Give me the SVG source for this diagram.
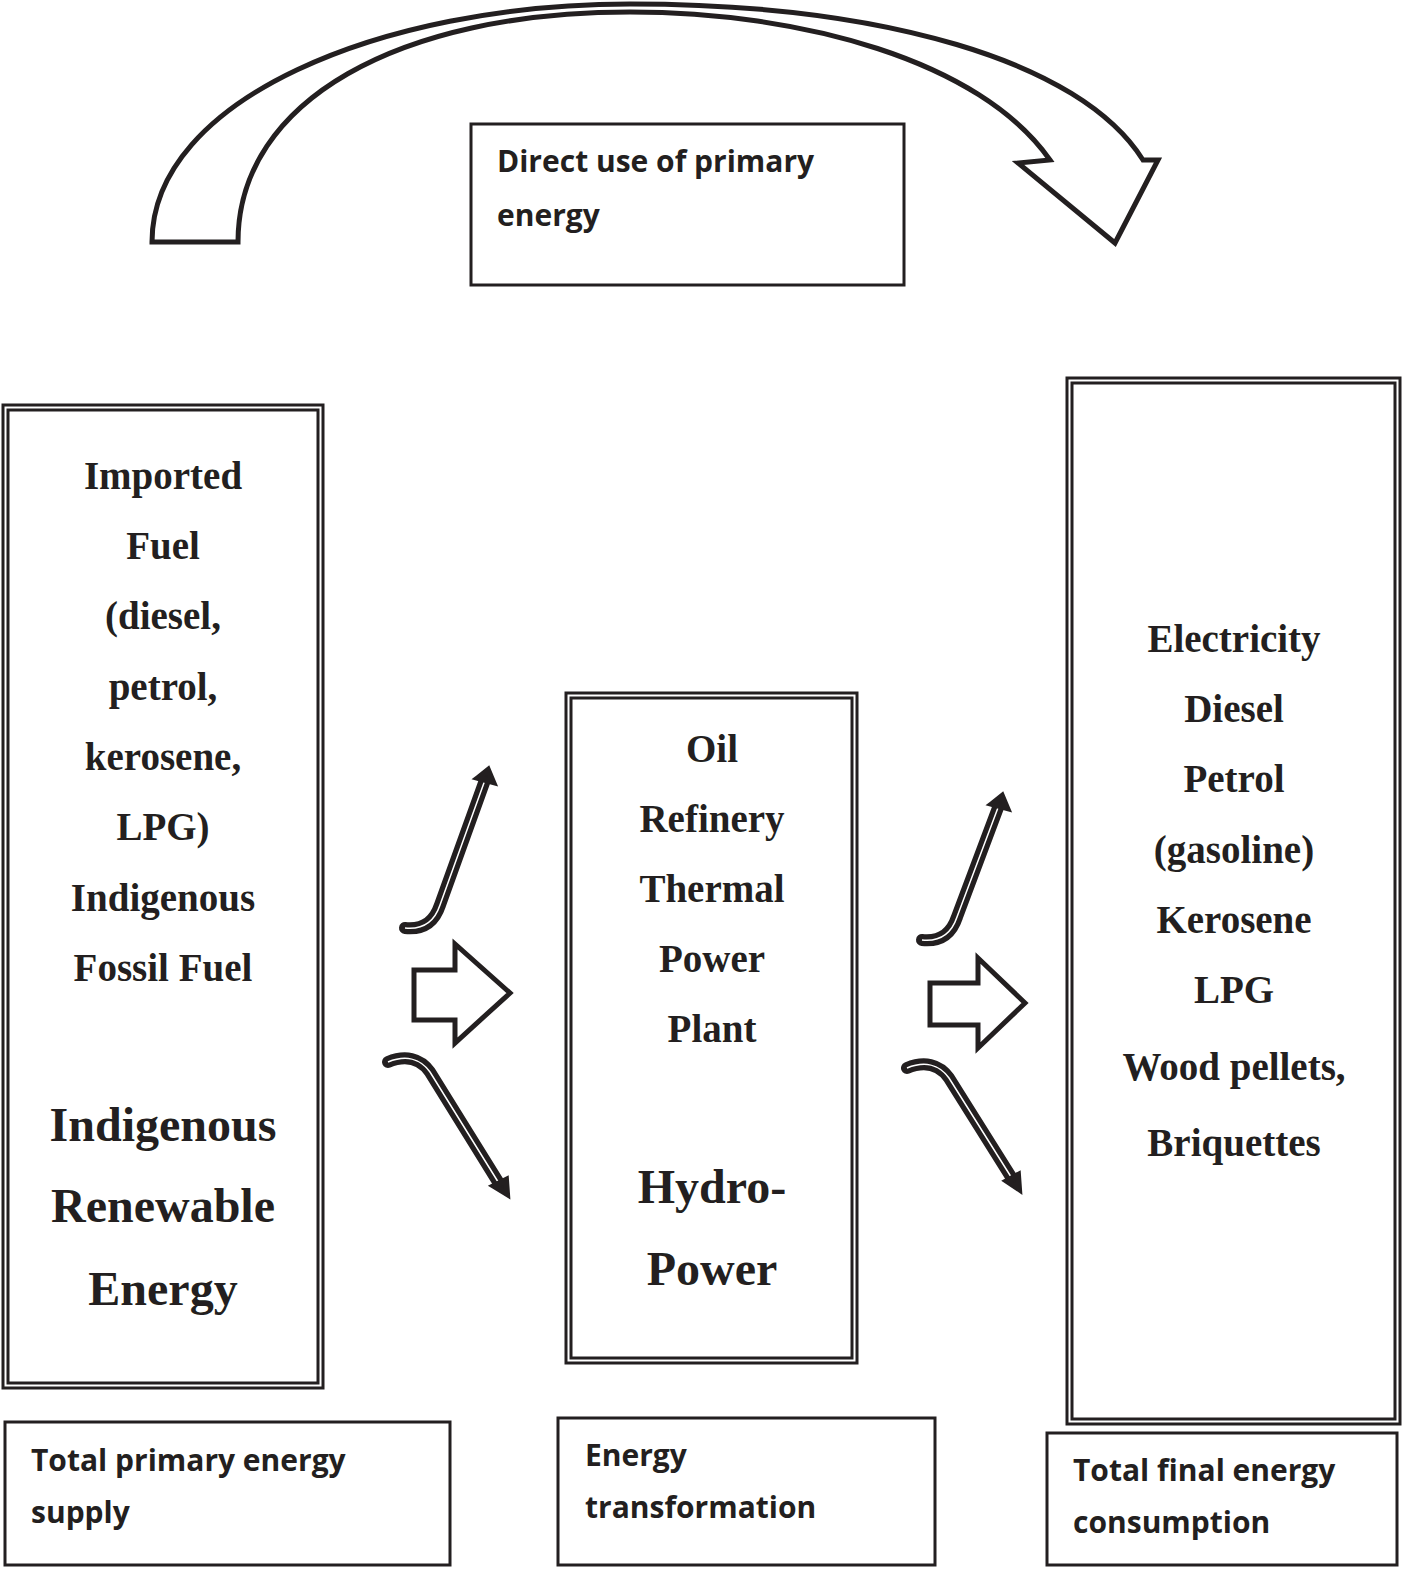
<svg xmlns="http://www.w3.org/2000/svg" width="1417" height="1585" viewBox="0 0 1417 1585">
<style>
.b{fill:none;stroke:#231f20;stroke-width:3}
.s{font-family:"Liberation Serif",serif;font-weight:bold;font-size:39px;fill:#231f20;text-anchor:middle}
.L{font-size:48px}
.c{font-family:"Open Sans","Liberation Sans",sans-serif;font-weight:bold;font-size:30px;fill:#231f20}
.ol{fill:#fff;stroke:#231f20;stroke-width:5;stroke-linejoin:miter}
.k{fill:none;stroke:#231f20;stroke-width:12;stroke-linecap:round}
.w{fill:none;stroke:#fff;stroke-width:1.5}
</style>
<rect width="1417" height="1585" fill="#fff"/>
<g id="connectors">
<path class="ol" d="M152,242 C152,100 380,4 630,4 C880,4 1080,60 1143,160 L1158,160 L1115,243 L1018,163 L1050,160 C980,60 800,12 630,12 C400,12 238,100 238,242 Z"/>
<path class="ol" d="M414,970 H455 V944 L510,993 L455,1043 V1020 H414 Z"/>
<path class="ol" d="M930,983 H978 V958 L1025,1003 L978,1048 V1025 H930 Z"/>
<g>
<path class="k" d="M405,928 C425,930 435,920 440,905 L485,780"/><path class="w" d="M405,928 C425,930 435,920 440,905 L485,780"/>
<path d="M478,778 L488,770 L493,782 Z" fill="#231f20" stroke="#231f20" stroke-width="6"/>
<path class="k" d="M388,1062 C405,1055 420,1058 430,1072 L500,1185"/><path class="w" d="M388,1062 C405,1055 420,1058 430,1072 L500,1185"/>
<path d="M494,1186 L507,1194 L506,1180 Z" fill="#231f20" stroke="#231f20" stroke-width="6"/>
<path class="k" d="M922,940 C942,942 952,932 957,917 L999,805"/><path class="w" d="M922,940 C942,942 952,932 957,917 L999,805"/>
<path d="M992,804 L1002,796 L1007,808 Z" fill="#231f20" stroke="#231f20" stroke-width="6"/>
<path class="k" d="M907,1068 C924,1061 939,1064 949,1078 L1013,1180"/><path class="w" d="M907,1068 C924,1061 939,1064 949,1078 L1013,1180"/>
<path d="M1007,1181 L1019,1189 L1018,1175 Z" fill="#231f20" stroke="#231f20" stroke-width="6"/>
</g>
</g>
<g id="direct"><rect x="471" y="124" width="433" height="161" class="b" stroke-width="2"/>
<text class="c" x="497" y="172">Direct use of primary</text><text class="c" x="497" y="226">energy</text></g>
<g id="primary"><rect x="3" y="405" width="320" height="983" class="b"/><rect x="8" y="410" width="310" height="973" class="b" stroke-width="1.5"/>
<text class="s" x="163" y="489">Imported</text><text class="s" x="163" y="559">Fuel</text><text class="s" x="163" y="629">(diesel,</text><text class="s" x="163" y="700">petrol,</text><text class="s" x="163" y="770">kerosene,</text><text class="s" x="163" y="840">LPG)</text><text class="s" x="163" y="911">Indigenous</text><text class="s" x="163" y="981">Fossil Fuel</text>
<text class="s L" x="163" y="1141">Indigenous</text><text class="s L" x="163" y="1222">Renewable</text><text class="s L" x="163" y="1305">Energy</text></g>
<g id="transform"><rect x="566" y="693" width="291" height="670" class="b"/><rect x="571" y="698" width="281" height="660" class="b" stroke-width="1.5"/>
<text class="s" x="712" y="762">Oil</text><text class="s" x="712" y="832">Refinery</text><text class="s" x="712" y="902">Thermal</text><text class="s" x="712" y="972">Power</text><text class="s" x="712" y="1042">Plant</text>
<text class="s L" x="712" y="1203">Hydro-</text><text class="s L" x="712" y="1285">Power</text></g>
<g id="final"><rect x="1067" y="378" width="333" height="1046" class="b"/><rect x="1072" y="383" width="323" height="1036" class="b" stroke-width="1.5"/>
<text class="s" x="1234" y="652">Electricity</text><text class="s" x="1234" y="722">Diesel</text><text class="s" x="1234" y="792">Petrol</text><text class="s" x="1234" y="863">(gasoline)</text><text class="s" x="1234" y="933">Kerosene</text><text class="s" x="1234" y="1003">LPG</text><text class="s" x="1234" y="1080">Wood pellets,</text><text class="s" x="1234" y="1156">Briquettes</text></g>
<g id="lbl1"><rect x="5" y="1422" width="445" height="143" class="b" stroke-width="2"/><text class="c" x="31" y="1471">Total primary energy</text><text class="c" x="31" y="1523">supply</text></g>
<g id="lbl2"><rect x="558" y="1418" width="377" height="147" class="b" stroke-width="2"/><text class="c" x="585" y="1466">Energy</text><text class="c" x="585" y="1518">transformation</text></g>
<g id="lbl3"><rect x="1047" y="1433" width="350" height="132" class="b" stroke-width="2"/><text class="c" x="1073" y="1481">Total final energy</text><text class="c" x="1073" y="1533">consumption</text></g>
</svg>
